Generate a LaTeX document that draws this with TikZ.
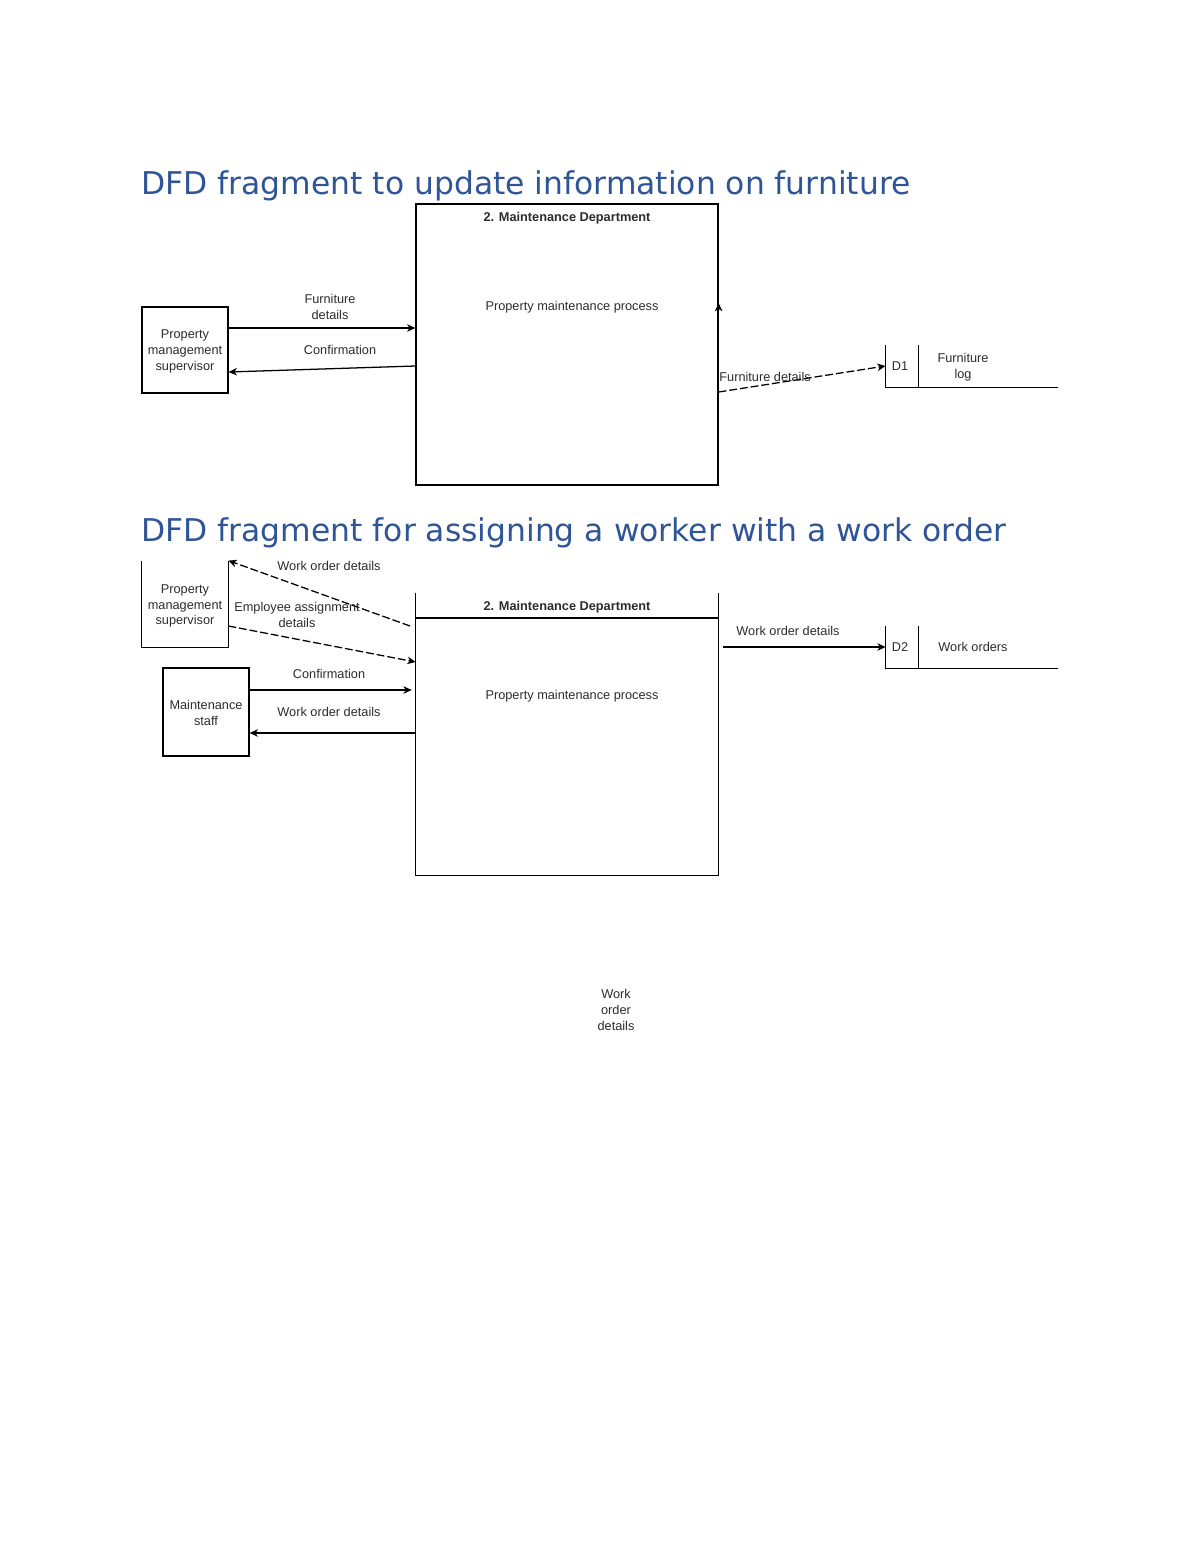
\documentclass[tikz,border=0pt]{standalone}
\usepackage{fontspec}
\setmainfont{Liberation Sans}
\newfontfamily\ttlfont{DejaVu Sans}
\usetikzlibrary{arrows.meta,fit}
\definecolor{ttl}{RGB}{47,85,151}
\definecolor{txtc}{RGB}{45,45,45}
\begin{document}
\begin{tikzpicture}[x=0.51pt,y=-0.51pt,
  box/.style={draw,line width=0.65pt,inner sep=0pt},
  area/.style={inner sep=0pt},
  txt/.style={font=\fontsize{6.5}{8.1}\selectfont,text=txtc,align=center,inner sep=0pt},
  btxt/.style={txt,font=\fontsize{6.5}{8.1}\selectfont\bfseries},
  flow/.style={-{Stealth[length=4.2pt,width=3.8pt,inset=1.2pt]},line width=0.65pt},
  dflow/.style={flow,dash pattern=on 4pt off 1.5pt},
  edge/.style={line width=0.65pt},
  title/.style={font=\ttlfont\fontsize{16}{19}\selectfont,text=ttl,anchor=base west,inner sep=0pt}]

\useasboundingbox (0,0) rectangle (1200,1553);
\fill[white] (0,0) rectangle (1200,1553);

% ---------- fragment 1 ----------
\node[title] (t1) at (141,195) {DFD fragment to update information on furniture};

\node[box,fit={(416,204)(718,485)}] (proc1) {};
\node[btxt] (proc1t) at (proc1.north |- 0,218) {2. Maintenance Department};
\node[txt] (proc1p) at (572,307) {Property maintenance process};

\node[box,fit={(142,307)(228,393)}] (sup1) {};
\node[txt] (sup1t) at (185,351.5) {Property\\management\\supervisor};

\draw[flow] (sup1.east |- 0,328) -- (proc1.west |- 0,328);
\node[txt] (l1) at (330,307) {Furniture\\details};
\draw[flow] (proc1.west |- 0,366) -- (sup1.east |- 0,372);
\node[txt] (l2) at (340,350) {Confirmation};
\draw[flow] (proc1.east |- 0,322) -- (proc1.east |- 0,303);

\node[area,fit={(886,345)(918,387)}] (d1) {};
\node[txt] (d1t) at (900,366) {D1};
\node[area,fit={(918,345)(1058,387)}] (d1log) {};
\node[txt] (d1n) at (963,367) {Furniture\\log};
\draw[edge] (d1.north west) -- (d1.south west) -- (d1log.south east);
\draw[edge] (d1.north east) -- (d1.south east);
\draw[dflow] (proc1.east |- 0,392) -- (d1.west |- 0,366);
\node[txt,anchor=west] (l3) at (719,377) {Furniture details};

% ---------- fragment 2 ----------
\node[title] (t2) at (141,541) {DFD fragment for assigning a worker with a work order};

\node[area,fit={(142,561)(228,647)}] (sup2) {};
\node[txt] (sup2t) at (185,606) {Property\\management\\supervisor};
\draw[edge] (sup2.north west) -- (sup2.south west) -- (sup2.south east) -- (sup2.north east);

\node[box,fit={(163,668)(249,756)}] (staff) {};
\node[txt] (stafft) at (206,713) {Maintenance\\staff};

\node[area,fit={(416,593)(718,875)}] (proc2) {};
\draw[edge] (proc2.north west) -- (proc2.south west) -- (proc2.south east) -- (proc2.north east);
\draw[edge] (proc2.west |- 0,618) -- (proc2.east |- 0,618);
\node[btxt] (proc2t) at (proc2.north |- 0,607) {2. Maintenance Department};
\node[txt] (proc2p) at (572,696) {Property maintenance process};

\coordinate (w1) at (410,626);
\draw[dflow] (w1) -- (sup2.north east);
\node[txt] (l4) at (329,566) {Work order details};

\draw[dflow] (sup2.east |- 0,626) -- (proc2.west |- 0,662);
\node[txt] (l5) at (297,615) {Employee assignment\\details};

\draw[flow] (staff.east |- 0,690) -- ([xshift=-2pt]proc2.west |- 0,690);
\node[txt] (l6) at (329,674) {Confirmation};
\draw[flow] (proc2.west |- 0,733) -- (staff.east |- 0,733);
\node[txt] (l7) at (329,712) {Work order details};

\node[area,fit={(886,626)(918,668)}] (d2) {};
\node[txt] (d2t) at (900,647) {D2};
\node[area,fit={(918,626)(1058,668)}] (d2log) {};
\node[txt] (d2n) at (973,647) {Work orders};
\draw[edge] (d2.north west) -- (d2.south west) -- (d2log.south east);
\draw[edge] (d2.north east) -- (d2.south east);
\coordinate (w2) at (723,647);
\draw[flow] (w2) -- (d2.west |- 0,647);
\node[txt] (l8) at (788,631) {Work order details};

\node[txt] (l9) at (616,1010) {Work\\order\\details};
\end{tikzpicture}
\end{document}
